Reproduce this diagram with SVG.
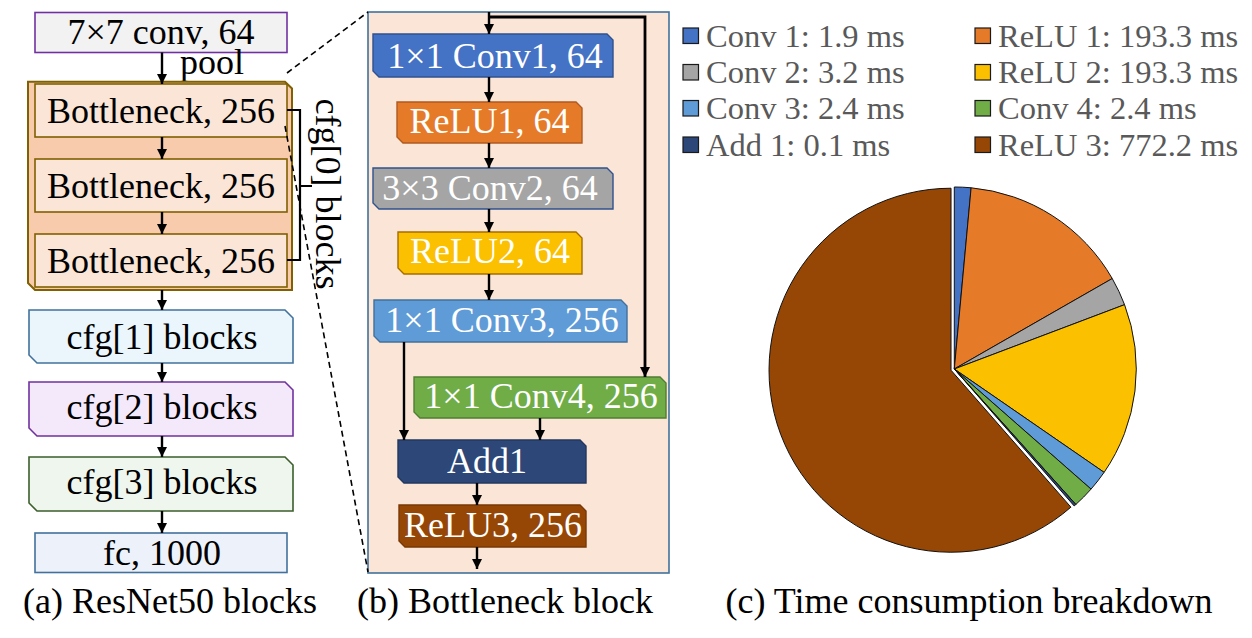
<svg xmlns="http://www.w3.org/2000/svg" width="1252" height="638" viewBox="0 0 1252 638">
<style>
text{font-family:"Liberation Serif","Times New Roman",serif;font-size:36px;fill:#000}
.c{text-anchor:middle}
.w{fill:#fff}
.lg{font-size:32.5px;fill:#595959}
.ln{stroke:#000;stroke-width:2.2;fill:none}
.arr{stroke:#000;stroke-width:2.4;fill:none;marker-end:url(#ah)}
.skip{stroke:#000;stroke-width:2.8;fill:none;marker-end:url(#ah)}
.dash{stroke:#000;stroke-width:1.6;stroke-dasharray:6 4;fill:none}
.sl{stroke:#111;stroke-width:1}
.sq{stroke:#1a1a1a;stroke-width:1.2}
</style>
<defs>
<marker id="ah" viewBox="0 0 10 10" refX="10" refY="5" markerWidth="11" markerHeight="10" markerUnits="userSpaceOnUse" orient="auto">
<path d="M0,0 L10,5 L0,10 Z" fill="#000"/>
</marker>
</defs>
<rect width="1252" height="638" fill="#fff"/>

<!-- Panel (a) -->
<g id="conv7">
<rect x="35" y="12.5" width="252" height="40" fill="#f2f2f2" stroke="#7030a0" stroke-width="1.6"/>
<text class="c" x="161" y="44">7×7 conv, 64</text>
</g>
<text id="pool" x="180" y="74">pool</text>
<g id="cfg0">
<polygon points="28,81.7 285,81.7 292,88.5 292,290 35,290 28,283" fill="#f8cbad" stroke="#806000" stroke-width="2"/>
</g>
<g id="bn1">
<rect x="35" y="84" width="252" height="53" fill="#fbe5d6" stroke="#806000" stroke-width="1.6"/>
<text class="c" x="161" y="123">Bottleneck, 256</text>
</g>
<g id="bn2">
<rect x="35" y="159" width="252" height="53" fill="#fbe5d6" stroke="#806000" stroke-width="1.6"/>
<text class="c" x="161" y="198">Bottleneck, 256</text>
</g>
<g id="bn3">
<rect x="35" y="234" width="252" height="53" fill="#fbe5d6" stroke="#806000" stroke-width="1.6"/>
<text class="c" x="161" y="273">Bottleneck, 256</text>
</g>
<g id="bracket">
<path class="ln" d="M287,110 H300 V260 H287 M300,186 H312"/>
<text class="c" transform="translate(316,194) rotate(90)">cfg[0] blocks</text>
</g>
<g id="cfg1">
<polygon points="29,310 285,310 293,318 293,363 37,363 29,355" fill="#eaf6fc" stroke="#41719c" stroke-width="1.6"/>
<text class="c" x="162" y="349">cfg[1] blocks</text>
</g>
<g id="cfg2">
<polygon points="29,382 285,382 293,390 293,436 37,436 29,428" fill="#f4e9fb" stroke="#7030a0" stroke-width="1.6"/>
<text class="c" x="162" y="419">cfg[2] blocks</text>
</g>
<g id="cfg3">
<polygon points="29,457 285,457 293,465 293,511 37,511 29,503" fill="#eff6ee" stroke="#3b5e2b" stroke-width="1.6"/>
<text class="c" x="162" y="494">cfg[3] blocks</text>
</g>
<g id="fc">
<rect x="35" y="533" width="252" height="39.5" fill="#edf1fa" stroke="#41719c" stroke-width="1.6"/>
<text class="c" x="162" y="565">fc, 1000</text>
</g>
<text class="c" x="170" y="613">(a) ResNet50 blocks</text>

<!-- Panel (b) -->
<g id="bottleneck-detail">
<rect x="368" y="12" width="301" height="561" fill="#fbe5d6" stroke="#41719c" stroke-width="1.6"/>
</g>
<g id="conv1">
<polygon points="373,34 607,34 613,40 613,77 379,77 373,71" fill="#4472c4" stroke="#2f528f" stroke-width="1.4"/>
<text class="c w" x="495" y="68">1×1 Conv1, 64</text>
</g>
<g id="relu1">
<polygon points="397,102 576,102 582,108 582,143 403,143 397,137" fill="#e57b28" stroke="#ae5a21" stroke-width="1.4"/>
<text class="c w" x="489.5" y="133">ReLU1, 64</text>
</g>
<g id="conv2">
<polygon points="373,168 607,168 613,174 613,209 379,209 373,203" fill="#a5a5a5" stroke="#2f528f" stroke-width="1.4"/>
<text class="c w" x="490" y="200">3×3 Conv2, 64</text>
</g>
<g id="relu2">
<polygon points="398,232 576,232 582,238 582,274 404,274 398,268" fill="#fbc000" stroke="#a66c00" stroke-width="1.4"/>
<text class="c w" x="490" y="263">ReLU2, 64</text>
</g>
<g id="conv3">
<polygon points="374,300 621,300 627,306 627,342 380,342 374,336" fill="#5f9bd6" stroke="#41719c" stroke-width="1.4"/>
<text class="c w" x="502" y="331.5">1×1 Conv3, 256</text>
</g>
<g id="conv4">
<polygon points="414,377 660,377 666,383 666,418 420,418 414,412" fill="#70ad47" stroke="#507e32" stroke-width="1.4"/>
<text class="c w" x="541" y="408">1×1 Conv4, 256</text>
</g>
<g id="add1">
<polygon points="398,440 580,440 586,446 586,483 404,483 398,477" fill="#2d4779" stroke="#22385f" stroke-width="1.4"/>
<text class="c w" x="487" y="473">Add1</text>
</g>
<g id="relu3">
<polygon points="399,505 580,505 586,511 586,547 405,547 399,541" fill="#964706" stroke="#7a3805" stroke-width="1.4"/>
<text class="c w" x="493" y="537">ReLU3, 256</text>
</g>
<text class="c" x="505" y="613">(b) Bottleneck block</text>

<!-- Connectors -->
<g id="connectors">
<line class="arr" x1="162" y1="52.5" x2="162" y2="84"/>
<line class="arr" x1="162" y1="137" x2="162" y2="159"/>
<line class="arr" x1="162" y1="212" x2="162" y2="234"/>
<line class="arr" x1="162" y1="290" x2="162" y2="310"/>
<line class="arr" x1="162" y1="363" x2="162" y2="382"/>
<line class="arr" x1="162" y1="436" x2="162" y2="457"/>
<line class="arr" x1="162" y1="511" x2="162" y2="533"/>
<line class="dash" x1="287" y1="73" x2="368" y2="12"/>
<line class="dash" x1="285" y1="126" x2="368" y2="572"/>
<line class="arr" x1="489" y1="12" x2="489" y2="34"/>
<path class="skip" d="M489,17 H645 V377"/>
<line class="arr" x1="489" y1="77" x2="489" y2="102"/>
<line class="arr" x1="489" y1="143" x2="489" y2="168"/>
<line class="arr" x1="489" y1="209" x2="489" y2="232"/>
<line class="arr" x1="489" y1="274" x2="489" y2="300"/>
<line class="arr" x1="404" y1="342" x2="404" y2="440"/>
<line class="arr" x1="540" y1="418" x2="540" y2="440"/>
<line class="arr" x1="477" y1="483" x2="477" y2="505"/>
<line class="arr" x1="477" y1="547" x2="477" y2="569"/>
</g>

<!-- Panel (c) legend -->
<g id="legend">
<rect class="sq" x="683" y="28" width="15.5" height="15.5" fill="#4472c4"/>
<text class="lg" x="706" y="47">Conv 1: 1.9 ms</text>
<rect class="sq" x="683" y="64.5" width="15.5" height="15.5" fill="#a5a5a5"/>
<text class="lg" x="706" y="83">Conv 2: 3.2 ms</text>
<rect class="sq" x="683" y="100.5" width="15.5" height="15.5" fill="#5f9bd6"/>
<text class="lg" x="706" y="119">Conv 3: 2.4 ms</text>
<rect class="sq" x="683" y="137" width="15.5" height="15.5" fill="#2d4779"/>
<text class="lg" x="706" y="155.5">Add 1: 0.1 ms</text>
<rect class="sq" x="975" y="28" width="15.5" height="15.5" fill="#e57b28"/>
<text class="lg" x="998" y="47">ReLU 1: 193.3 ms</text>
<rect class="sq" x="975" y="64.5" width="15.5" height="15.5" fill="#fbc000"/>
<text class="lg" x="998" y="83">ReLU 2: 193.3 ms</text>
<rect class="sq" x="975" y="100.5" width="15.5" height="15.5" fill="#70ad47"/>
<text class="lg" x="998" y="119">Conv 4: 2.4 ms</text>
<rect class="sq" x="975" y="137" width="15.5" height="15.5" fill="#964706"/>
<text class="lg" x="998" y="155.5">ReLU 3: 772.2 ms</text>
</g>

<!-- Pie -->
<g id="pie">
<path class="sl" fill="#4472c4" d="M954.3,369 L954.3,187 A182,182 0 0 1 971.11,187.78 Z"/>
<path class="sl" fill="#e57b28" d="M954.3,369 L971.11,187.78 A182,182 0 0 1 1112.24,278.55 Z"/>
<path class="sl" fill="#a5a5a5" d="M954.3,369 L1112.24,278.55 A182,182 0 0 1 1124.55,304.67 Z"/>
<path class="sl" fill="#fbc000" d="M954.3,369 L1124.55,304.67 A182,182 0 0 1 1104.11,472.35 Z"/>
<path class="sl" fill="#5f9bd6" d="M954.3,369 L1104.11,472.35 A182,182 0 0 1 1091.04,489.11 Z"/>
<path class="sl" fill="#70ad47" d="M954.3,369 L1091.04,489.11 A182,182 0 0 1 1075.85,504.46 Z"/>
<path class="sl" fill="#2d4779" d="M954.3,369 L1075.85,504.46 A182,182 0 0 1 1074.18,505.94 Z"/>
<path class="sl" fill="#964706" d="M951.02,370.23 L1070.9,507.17 A182,182 0 1 1 951.02,188.23 Z"/>
</g>
<text class="c" x="969" y="613">(c) Time consumption breakdown</text>
</svg>
